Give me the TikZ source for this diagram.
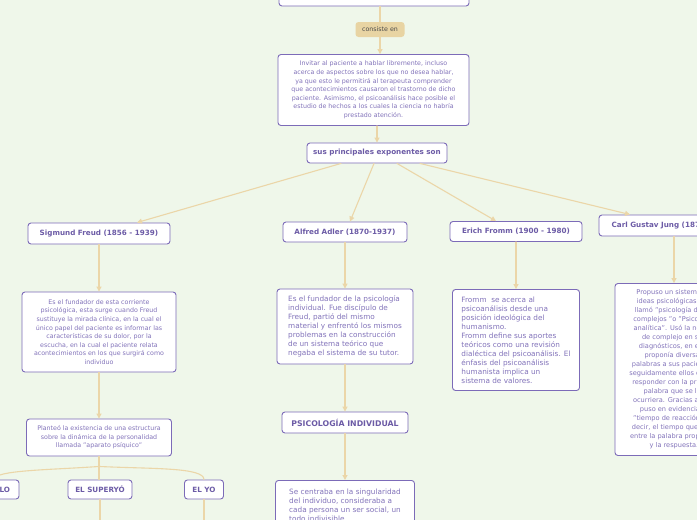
\documentclass[tikz,border=0pt]{standalone}
\usepackage{fontspec}
\setmainfont{DejaVu Sans}
\usetikzlibrary{arrows.meta}
\definecolor{bgcol}{HTML}{EFF7EA}
\definecolor{edgecol}{HTML}{7C6BB8}
\definecolor{txtcol}{HTML}{6C5BA6}
\definecolor{desccol}{HTML}{8273BA}
\definecolor{tancol}{HTML}{EBD6A8}
\definecolor{labcol}{HTML}{E8D4A3}
\tikzset{
	mybox/.style={draw=edgecol, line width=0.9pt, rounded corners=3pt, fill=white, inner sep=0pt},
	titlebox/.style={mybox, text=txtcol, font=\fontsize{7.2}{8}\selectfont\bfseries},
	descbox/.style={mybox, text=desccol, align=center, font=\fontsize{6.3}{8.6}\selectfont},
	leftbox/.style={descbox, align=left, font=\fontsize{7.3}{9}\selectfont},
	link/.style={draw=tancol, line width=1.1pt},
	arr/.style={link, ->}
}
\begin{document}
\begin{tikzpicture}[x=1pt, y=-1pt, line join=round, line cap=round, >={Triangle[length=5pt,width=5pt]}]
		\def\W{697} \def\H{520}
		\fill[bgcol] (0,0) rectangle (\W,\H);
		\useasboundingbox (0,0) rectangle (\W,\H);
		\clip (0,0) rectangle (\W,\H);
		% top of the map
		\node[mybox, minimum width=190, minimum height=36] (top) at (374,-12) {};
		\node[fill=labcol, rounded corners=3pt, inner sep=0pt, minimum width=49, minimum height=15, text=black!70, font=\fontsize{6.3}{7}\selectfont] (cons) at (380,29.5) {consiste en};
		\node[descbox, minimum width=191, minimum height=71] (metodo) at (373.5,90) {Invitar al paciente a hablar libremente, incluso\\acerca de aspectos sobre los que no desea hablar,\\ya que esto le permitirá al terapeuta comprender\\que acontecimientos causaron el trastorno de dicho\\paciente. Asimismo, el psicoanálisis hace posible el\\estudio de hechos a los cuales la ciencia no habría\\prestado atención.};
		\node[titlebox, minimum width=140, minimum height=20] (sus) at (377,153) {sus principales exponentes son};
		\draw[link] (cons.north |- top.south) -- (cons);
		\draw[arr] (cons) -- (cons.south |- metodo.north);
		\draw[arr] (sus.north |- metodo.south) -- (sus);
		% exponentes
		\node[titlebox, minimum width=142, minimum height=21] (freud) at (99,233.5) {Sigmund Freud (1856 - 1939)};
		\node[titlebox, minimum width=124, minimum height=20] (adler) at (345,232) {Alfred Adler (1870-1937)};
		\node[titlebox, minimum width=132, minimum height=20] (fromm) at (516,231.5) {Erich Fromm (1900 - 1980)};
		\node[titlebox, minimum width=150, minimum height=21] (jung) at (674,225.5) {Carl Gustav Jung (1875 - 1961)};
		\draw[arr] ([xshift=-36]sus.south) -- ([xshift=38]freud.north);
		\draw[arr] ([xshift=-3]sus.south) -- ([xshift=5]adler.north);
		\draw[arr] ([xshift=20]sus.south) -- ([xshift=-20]fromm.north);
		\draw[arr] ([xshift=43]sus.south) -- ([xshift=-44]jung.north);
		% Freud
		\node[descbox, minimum width=154, minimum height=80] (freudtxt) at (99,332) {Es el fundador de esta corriente\\psicológica, esta surge cuando Freud\\sustituye la mirada clínica, en la cual el\\único papel del paciente es informar las\\características de su dolor, por la\\escucha, en la cual el paciente relata\\acontecimientos en los que surgirá como\\individuo};
		\node[descbox, minimum width=145, minimum height=37] (aparato) at (99,437.5) {Planteó la existencia de una estructura\\sobre la dinámica de la personalidad\\llamada "aparato psíquico"};
		\node[titlebox, minimum width=50, minimum height=19] (ello) at (-6,489.5) {EL ELLO};
		\node[titlebox, minimum width=64, minimum height=19] (superyo) at (100,489.5) {EL SUPERYÓ};
		\node[titlebox, minimum width=39, minimum height=19] (yo) at (204,489.5) {EL YO};
		\draw[arr] (freud) -- (freudtxt);
		\draw[arr] (freudtxt) -- (aparato);
		\draw[link] (aparato.south) -- ++(0,10) coordinate (fork);
		\draw[link] (fork) -- (fork |- superyo.north);
		\draw[link] (fork) .. controls (50,470) and (-6,470) .. (ello.north);
		\draw[link] (fork) .. controls (150,469) and (204,467) .. (yo.north);
		\draw[link] (superyo.south) -- ++(0,25);
		\draw[link] (yo.south) -- ++(0,25);
		% Adler
		\node[leftbox, minimum width=136, minimum height=75] (adlertxt) at (345,326.5) {Es el fundador de la psicología\\individual. Fue discípulo de\\Freud, partió del mismo\\material y enfrentó los mismos\\problemas en la construcción\\de un sistema teórico que\\negaba el sistema de su tutor.};
		\node[titlebox, font=\fontsize{7.8}{8}\selectfont\bfseries, minimum width=126, minimum height=21] (indiv) at (345,422.5) {PSICOLOGÍA INDIVIDUAL};
		\node[leftbox, minimum width=139, inner ysep=8pt, anchor=north] (singular) at (345,480) {Se centraba en la singularidad\\del individuo, consideraba a\\cada persona un ser social, un\\todo indivisible.};
		\draw[arr] (adler) -- (adlertxt);
		\draw[arr] (adlertxt) -- (indiv);
		\draw[arr] (indiv) -- (singular);
		% Fromm
		\node[leftbox, minimum width=127, minimum height=101] (frommtxt) at (516,340) {Fromm\ \ se acerca al\\psicoanálisis desde una\\posición ideológica del\\humanismo.\\Fromm define sus aportes\\teóricos como una revisión\\dialéctica del psicoanálisis. El\\énfasis del psicoanálisis\\humanista implica un\\sistema de valores.};
		\draw[arr] (fromm) -- (frommtxt);
		% Jung
		\node[descbox, font=\fontsize{6.6}{9}\selectfont, minimum width=118, minimum height=172] (jungtxt) at (674,369.5) {Propuso un sistema de\\ideas psicológicas que\\llamó "psicología de los\\complejos "o "Psicología\\analítica". Usó la noción\\de complejo en sus\\diagnósticos, en esta\\proponía diversas\\palabras a sus pacientes,\\seguidamente ellos debían\\responder con la primera\\palabra que se les\\ocurriera. Gracias a esto\\puso en evidencia el\\"tiempo de reacción", es\\decir, el tiempo que pasa\\entre la palabra propuesta\\y la respuesta.};
		\draw[arr] (jung) -- (jungtxt);
\end{tikzpicture}
\end{document}
